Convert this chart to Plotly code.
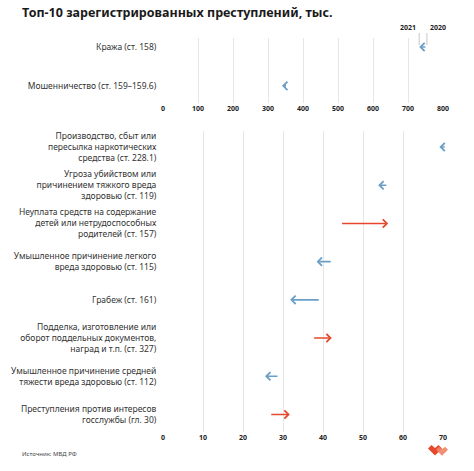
import plotly.graph_objects as go

# ---- data ----
top_categories = ["Кража (ст. 158)", "Мошенничество (ст. 159–159.6)"]
top_2020 = [754, 348]
top_2021 = [732, 340]

bottom_categories = [
    "Производство, сбыт или<br>пересылка наркотических<br>средства (ст. 228.1)",
    "Угроза убийством или<br>причинением тяжкого вреда<br>здоровью (ст. 119)",
    "Неуплата средств на содержание<br>детей или нетрудоспособных<br>родителей (ст. 157)",
    "Умышленное причинение легкого<br>вреда здоровью (ст. 115)",
    "Грабеж (ст. 161)",
    "Подделка, изготовление или<br>оборот поддельных документов,<br>наград и т.п. (ст. 327)",
    "Умышленное причинение средней<br>тяжести вреда здоровью (ст. 112)",
    "Преступления против интересов<br>госслужбы (гл. 30)",
]
bottom_2020 = [70.8, 56.2, 44.4, 42.3, 39.3, 37.4, 29.0, 26.7]
bottom_2021 = [69.1, 53.8, 56.3, 38.4, 31.8, 42.2, 25.5, 31.7]

top_ticks = [0, 100, 200, 300, 400, 500, 600, 700, 800]
bottom_ticks = [0, 10, 20, 30, 40, 50, 60, 70]

BLUE = "#6b9ec6"
RED = "#e5482d"
FONT = "Noto Sans"
W, H = 474, 471
L, R = 163, 31
PLOT_W = W - L - R

def py(pix):
    return 1 - pix / H

def px(x):
    return (x - L) / PLOT_W

fig = go.Figure()
# invisible traces so the category axes are populated
fig.add_trace(go.Scatter(x=top_2020, y=top_categories, mode="markers",
                         marker=dict(opacity=0), xaxis="x", yaxis="y",
                         hoverinfo="skip", showlegend=False))
fig.add_trace(go.Scatter(x=bottom_2020, y=bottom_categories, mode="markers",
                         marker=dict(opacity=0), xaxis="x2", yaxis="y2",
                         hoverinfo="skip", showlegend=False))

annotations = []
MIN_PX = 5.5  # arrows shorter than the head are drawn head-only

def arrows(v20, v21, xr, yr, xmax):
    unit_px = PLOT_W / xmax
    for i, (a, b) in enumerate(zip(v20, v21)):
        col = RED if b > a else BLUE
        tail = a
        if abs(a - b) * unit_px < MIN_PX:
            sgn = 1 if a >= b else -1
            tail = b + sgn * MIN_PX / unit_px
        annotations.append(dict(
            x=b, y=i, ax=tail, ay=i, xref=xr, yref=yr, axref=xr, ayref=yr,
            text="", showarrow=True, arrowhead=4, arrowsize=1.0,
            arrowwidth=1.6, arrowcolor=col, standoff=0, startstandoff=0))

arrows(top_2020, top_2021, "x", "y", top_ticks[-1])
arrows(bottom_2020, bottom_2021, "x2", "y2", bottom_ticks[-1])

# year labels with leader lines
shapes = []
for val, lbl, anc in [(top_2021[0], "2021", "right"), (top_2020[0], "2020", "left")]:
    shapes.append(dict(type="line", xref="x", yref="paper", x0=val, x1=val,
                       y0=py(45), y1=py(33), line=dict(color="#c8c8c8", width=1)))
    annotations.append(dict(x=val, y=py(28), xref="x", yref="paper", text=lbl,
                            showarrow=False, xanchor=anc, yanchor="middle",
                            xshift=-1 if anc == "right" else 1,
                            font=dict(family=FONT, size=7, color="#222", weight="bold")))

# title and source
annotations.append(dict(x=px(20), y=py(13), xref="paper", yref="paper",
                        text="<b>Топ-10 зарегистрированных преступлений, тыс.</b>",
                        showarrow=False, xanchor="left", yanchor="middle",
                        font=dict(family=FONT, size=12.5, color="#1a1a1a")))
annotations.append(dict(x=px(20), y=py(454), xref="paper", yref="paper",
                        text="Источник: МВД РФ", showarrow=False, xanchor="left",
                        yanchor="middle", font=dict(family=FONT, size=6, color="#444")))

# logo (small heart mark)
def heart(cx, cy, s):
    pts = [(-1.0, -0.2), (-0.5, -0.7), (0.0, -0.3), (0.5, -0.7), (1.0, -0.2), (0.0, 0.8)]
    return "M " + " L ".join(f"{px(cx + s * u)},{py(cy + s * v)}" for u, v in pts) + " Z"

shapes.append(dict(type="path", xref="paper", yref="paper", path=heart(435, 450, 7),
                   fillcolor=RED, line=dict(width=0)))
shapes.append(dict(type="path", xref="paper", yref="paper", path=heart(442, 451, 6),
                   fillcolor="#f08466", opacity=0.9, line=dict(width=0)))

axis_common = dict(showgrid=True, gridcolor="#e6e6e6", gridwidth=1, zeroline=False,
                   showline=False, ticks="",
                   tickfont=dict(family=FONT, size=7, color="#222", weight="bold"))

ycommon = dict(type="category", showgrid=False, zeroline=False, showline=False,
               ticks="outside", ticklen=4, tickcolor="rgba(0,0,0,0)",
               tickfont=dict(family=FONT, size=8.5, color="#333"))

fig.update_layout(
    width=W, height=H,
    margin=dict(l=L, r=R, t=0, b=0),
    paper_bgcolor="white", plot_bgcolor="white",
    showlegend=False,
    xaxis=dict(domain=[0, 1], anchor="y", range=[0, top_ticks[-1]], tickvals=top_ticks, **axis_common),
    yaxis=dict(domain=[py(103), py(38)], range=[1.44, -0.23], **ycommon),
    xaxis2=dict(domain=[0, 1], anchor="y2", range=[0, bottom_ticks[-1]], tickvals=bottom_ticks, **axis_common),
    yaxis2=dict(domain=[py(432), py(131)], range=[7.46, -0.42], **ycommon),
    annotations=annotations,
    shapes=shapes,
)

fig.write_html("out.html", config={"displayModeBar": False},
               post_script="document.body.style.margin='0';")
